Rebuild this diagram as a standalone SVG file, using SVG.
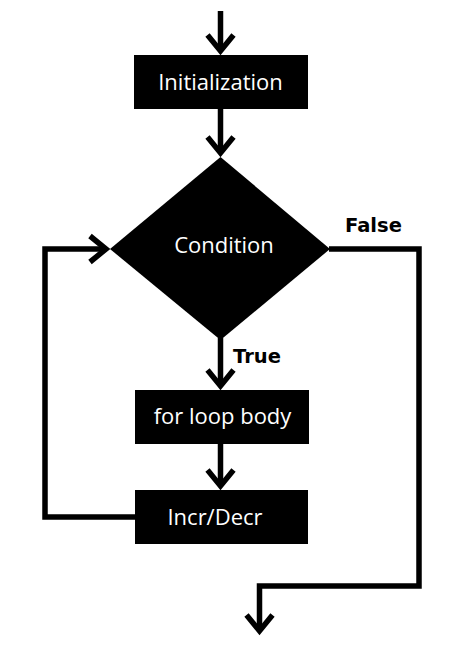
<svg xmlns="http://www.w3.org/2000/svg" width="476" height="650" viewBox="0 0 476 650">
<style>
.box{fill:#000}
.lbl{fill:#fff;font-family:"Open Sans","DejaVu Sans",sans-serif;font-size:22px;text-anchor:middle}
.edge{font-family:"DejaVu Sans","Liberation Sans",sans-serif;font-size:19.5px;font-weight:bold;fill:#000}
.con{fill:none;stroke:#000;stroke-width:5.5;stroke-linejoin:miter;marker-end:url(#chev)}
</style>
<defs>
<marker id="chev" markerUnits="userSpaceOnUse" markerWidth="40" markerHeight="40" refX="0" refY="0" orient="auto" overflow="visible">
<path d="M-16,-13 L0,0 L-16,13" fill="none" stroke="#000" stroke-width="5.5" stroke-linejoin="miter" stroke-miterlimit="10"/>
</marker>
</defs>
<rect width="476" height="650" fill="#fff"/>
<g id="connectors">
<path class="con" d="M220.5,11 V51"/>
<path class="con" d="M220.5,109 V153"/>
<path class="con" d="M220.5,338 V386"/>
<path class="con" d="M220.5,444 V486"/>
<path class="con" d="M136,517 H45 V249 H106"/>
<path class="con" d="M329,249 H419 V586 H259.5 V631"/>
<text class="edge" x="345" y="232">False</text>
<text class="edge" x="233" y="363">True</text>
</g>
<g id="init">
<rect class="box" x="134" y="55" width="174" height="54"/>
<text class="lbl" x="220.5" y="90">Initialization</text>
</g>
<g id="condition">
<polygon class="box" points="220.5,157 330,249 220.5,340 110,249"/>
<text class="lbl" x="224" y="253">Condition</text>
</g>
<g id="body">
<rect class="box" x="135" y="390" width="174" height="54"/>
<text class="lbl" x="222.5" y="424">for loop body</text>
</g>
<g id="incr">
<rect class="box" x="135" y="490" width="173" height="54"/>
<text class="lbl" x="215" y="525">Incr/Decr</text>
</g>
</svg>
